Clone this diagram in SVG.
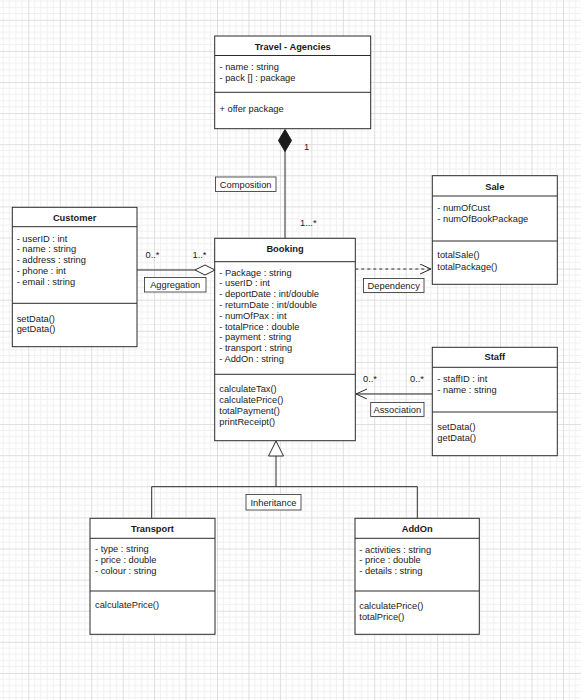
<svg xmlns="http://www.w3.org/2000/svg" width="581" height="700" viewBox="0 0 581 700">
<style>
text{font-family:"Liberation Sans",Arial,sans-serif;font-size:9.3px;fill:#1a1a1a}
.t{font-weight:bold;text-anchor:middle}
.c{text-anchor:middle}
.box{fill:#fff;stroke:#2b2b2b;stroke-width:1}
.ln{stroke:#2b2b2b;stroke-width:1;fill:none}
.lbl{fill:#fff;stroke:#2b2b2b;stroke-width:0.8}
</style>
<defs>
<pattern id="grid" patternUnits="userSpaceOnUse" x="28.3" y="19.8" width="31.45" height="31.1">
<path d="M6.29 0V31.1M12.58 0V31.1M18.87 0V31.1M25.16 0V31.1M0 6.22H31.45M0 12.44H31.45M0 18.66H31.45M0 24.88H31.45" stroke="#f0f0f0" stroke-width="1" fill="none"/>
<path d="M0.5 0V31.1M0 0.5H31.45" stroke="#dedede" stroke-width="1" fill="none"/>
</pattern>
<marker id="open" markerWidth="14" markerHeight="12" refX="11" refY="5" orient="auto" markerUnits="userSpaceOnUse">
<path d="M0 0L11 5L0 10" fill="none" stroke="#2b2b2b" stroke-width="1"/>
</marker>
</defs>
<rect width="581" height="700" fill="#fff"/>
<rect width="581" height="700" fill="url(#grid)"/>

<g id="connectors">
<line class="ln" x1="285" y1="151" x2="285" y2="238.3"/>
<path d="M285 129.5L291.5 140.5L285 151.5L278.5 140.5Z" fill="#1a1a1a" stroke="#1a1a1a"/>
<line class="ln" x1="137" y1="270" x2="195" y2="270"/>
<path d="M195 270L205 265L215 270L205 275Z" fill="#fff" stroke="#2b2b2b"/>
<line class="ln" x1="355.3" y1="269" x2="431" y2="269" stroke-dasharray="3,3" marker-end="url(#open)"/>
<line class="ln" x1="432.3" y1="394" x2="356" y2="394" marker-end="url(#open)"/>
<path class="ln" d="M276 456V486.7H151.7V518.3M276 486.7H417.3V518.3"/>
<path d="M276 441L283.5 456H268.5Z" fill="#fff" stroke="#2b2b2b"/>
</g>

<g id="labels">
<rect class="lbl" x="215.5" y="177" width="60.5" height="14.5"/>
<text class="c" x="245.7" y="187.5">Composition</text>
<text x="304" y="149.5">1</text>
<text x="300" y="225.5">1...*</text>
<text x="145.5" y="257.5">0..*</text>
<text x="192.5" y="257.5">1..*</text>
<rect class="lbl" x="144.5" y="277.5" width="61.5" height="14.5"/>
<text class="c" x="175.2" y="288">Aggregation</text>
<rect class="lbl" x="363.5" y="278.5" width="60.5" height="14"/>
<text class="c" x="393.7" y="289">Dependency</text>
<text x="363" y="382">0..*</text>
<text x="410" y="382">0..*</text>
<rect class="lbl" x="370.7" y="402.5" width="53.3" height="14"/>
<text class="c" x="397.3" y="413">Association</text>
<rect class="lbl" x="246" y="494.5" width="55" height="15.5"/>
<text class="c" x="273.5" y="505.5">Inheritance</text>
</g>

<g id="travel-agencies">
<rect class="box" x="214.7" y="36" width="156" height="92.7"/>
<line class="ln" x1="214.7" y1="55.5" x2="370.7" y2="55.5"/>
<line class="ln" x1="214.7" y1="92.3" x2="370.7" y2="92.3"/>
<text class="t" x="292.7" y="50">Travel - Agencies</text>
<text x="219.5" y="70">- name : string</text>
<text x="219.5" y="81.3">- pack [] : package</text>
<text x="219.5" y="111.6">+ offer package</text>
</g>

<g id="customer">
<rect class="box" x="12.3" y="207.3" width="124.7" height="139.4"/>
<line class="ln" x1="12.3" y1="226.7" x2="137" y2="226.7"/>
<line class="ln" x1="12.3" y1="303.3" x2="137" y2="303.3"/>
<text class="t" x="74.6" y="221">Customer</text>
<text x="16.7" y="241.6">- userID : int</text>
<text x="16.7" y="252.4">- name : string</text>
<text x="16.7" y="263.2">- address : string</text>
<text x="16.7" y="274">- phone : int</text>
<text x="16.7" y="284.8">- email : string</text>
<text x="16.7" y="321.6">setData()</text>
<text x="16.7" y="332.4">getData()</text>
</g>

<g id="booking">
<rect class="box" x="214.7" y="238.3" width="140.6" height="202.4"/>
<line class="ln" x1="214.7" y1="261.7" x2="355.3" y2="261.7"/>
<line class="ln" x1="214.7" y1="374.3" x2="355.3" y2="374.3"/>
<text class="t" x="285" y="252.3">Booking</text>
<text x="219.3" y="275.6">- Package : string</text>
<text x="219.3" y="286.4">- userID : int</text>
<text x="219.3" y="297.2">- deportDate : int/double</text>
<text x="219.3" y="308">- returnDate : int/double</text>
<text x="219.3" y="318.8">- numOfPax : int</text>
<text x="219.3" y="329.6">- totalPrice : double</text>
<text x="219.3" y="340.4">- payment : string</text>
<text x="219.3" y="351.2">- transport : string</text>
<text x="219.3" y="362">- AddOn : string</text>
<text x="219.3" y="392.3">calculateTax()</text>
<text x="219.3" y="403.2">calculatePrice()</text>
<text x="219.3" y="414.1">totalPayment()</text>
<text x="219.3" y="425">printReceipt()</text>
</g>

<g id="sale">
<rect class="box" x="432.3" y="175.7" width="125" height="108.6"/>
<line class="ln" x1="432.3" y1="196" x2="557.3" y2="196"/>
<line class="ln" x1="432.3" y1="241" x2="557.3" y2="241"/>
<text class="t" x="494.8" y="190">Sale</text>
<text x="437.3" y="210.6">- numOfCust</text>
<text x="437.3" y="221.6">- numOfBookPackage</text>
<text x="437.3" y="258.3">totalSale()</text>
<text x="437.3" y="270">totalPackage()</text>
</g>

<g id="staff">
<rect class="box" x="432.3" y="347.3" width="125" height="108.4"/>
<line class="ln" x1="432.3" y1="367.3" x2="557.3" y2="367.3"/>
<line class="ln" x1="432.3" y1="412" x2="557.3" y2="412"/>
<text class="t" x="494.8" y="360">Staff</text>
<text x="437.3" y="381.6">- staffID : int</text>
<text x="437.3" y="392.6">- name : string</text>
<text x="437.3" y="430">setData()</text>
<text x="437.3" y="441">getData()</text>
</g>

<g id="transport">
<rect class="box" x="90" y="518.3" width="125" height="116"/>
<line class="ln" x1="90" y1="538.3" x2="215" y2="538.3"/>
<line class="ln" x1="90" y1="591" x2="215" y2="591"/>
<text class="t" x="152.5" y="531.6">Transport</text>
<text x="95" y="552.3">- type : string</text>
<text x="95" y="563.2">- price : double</text>
<text x="95" y="574">- colour : string</text>
<text x="95" y="608.3">calculatePrice()</text>
</g>

<g id="addon">
<rect class="box" x="355" y="518.3" width="124.3" height="116"/>
<line class="ln" x1="355" y1="538.3" x2="479.3" y2="538.3"/>
<line class="ln" x1="355" y1="591" x2="479.3" y2="591"/>
<text class="t" x="417.2" y="531.6">AddOn</text>
<text x="359.3" y="552.6">- activities : string</text>
<text x="359.3" y="563.3">- price : double</text>
<text x="359.3" y="574">- details : string</text>
<text x="359.3" y="609.3">calculatePrice()</text>
<text x="359.3" y="620">totalPrice()</text>
</g>
</svg>
